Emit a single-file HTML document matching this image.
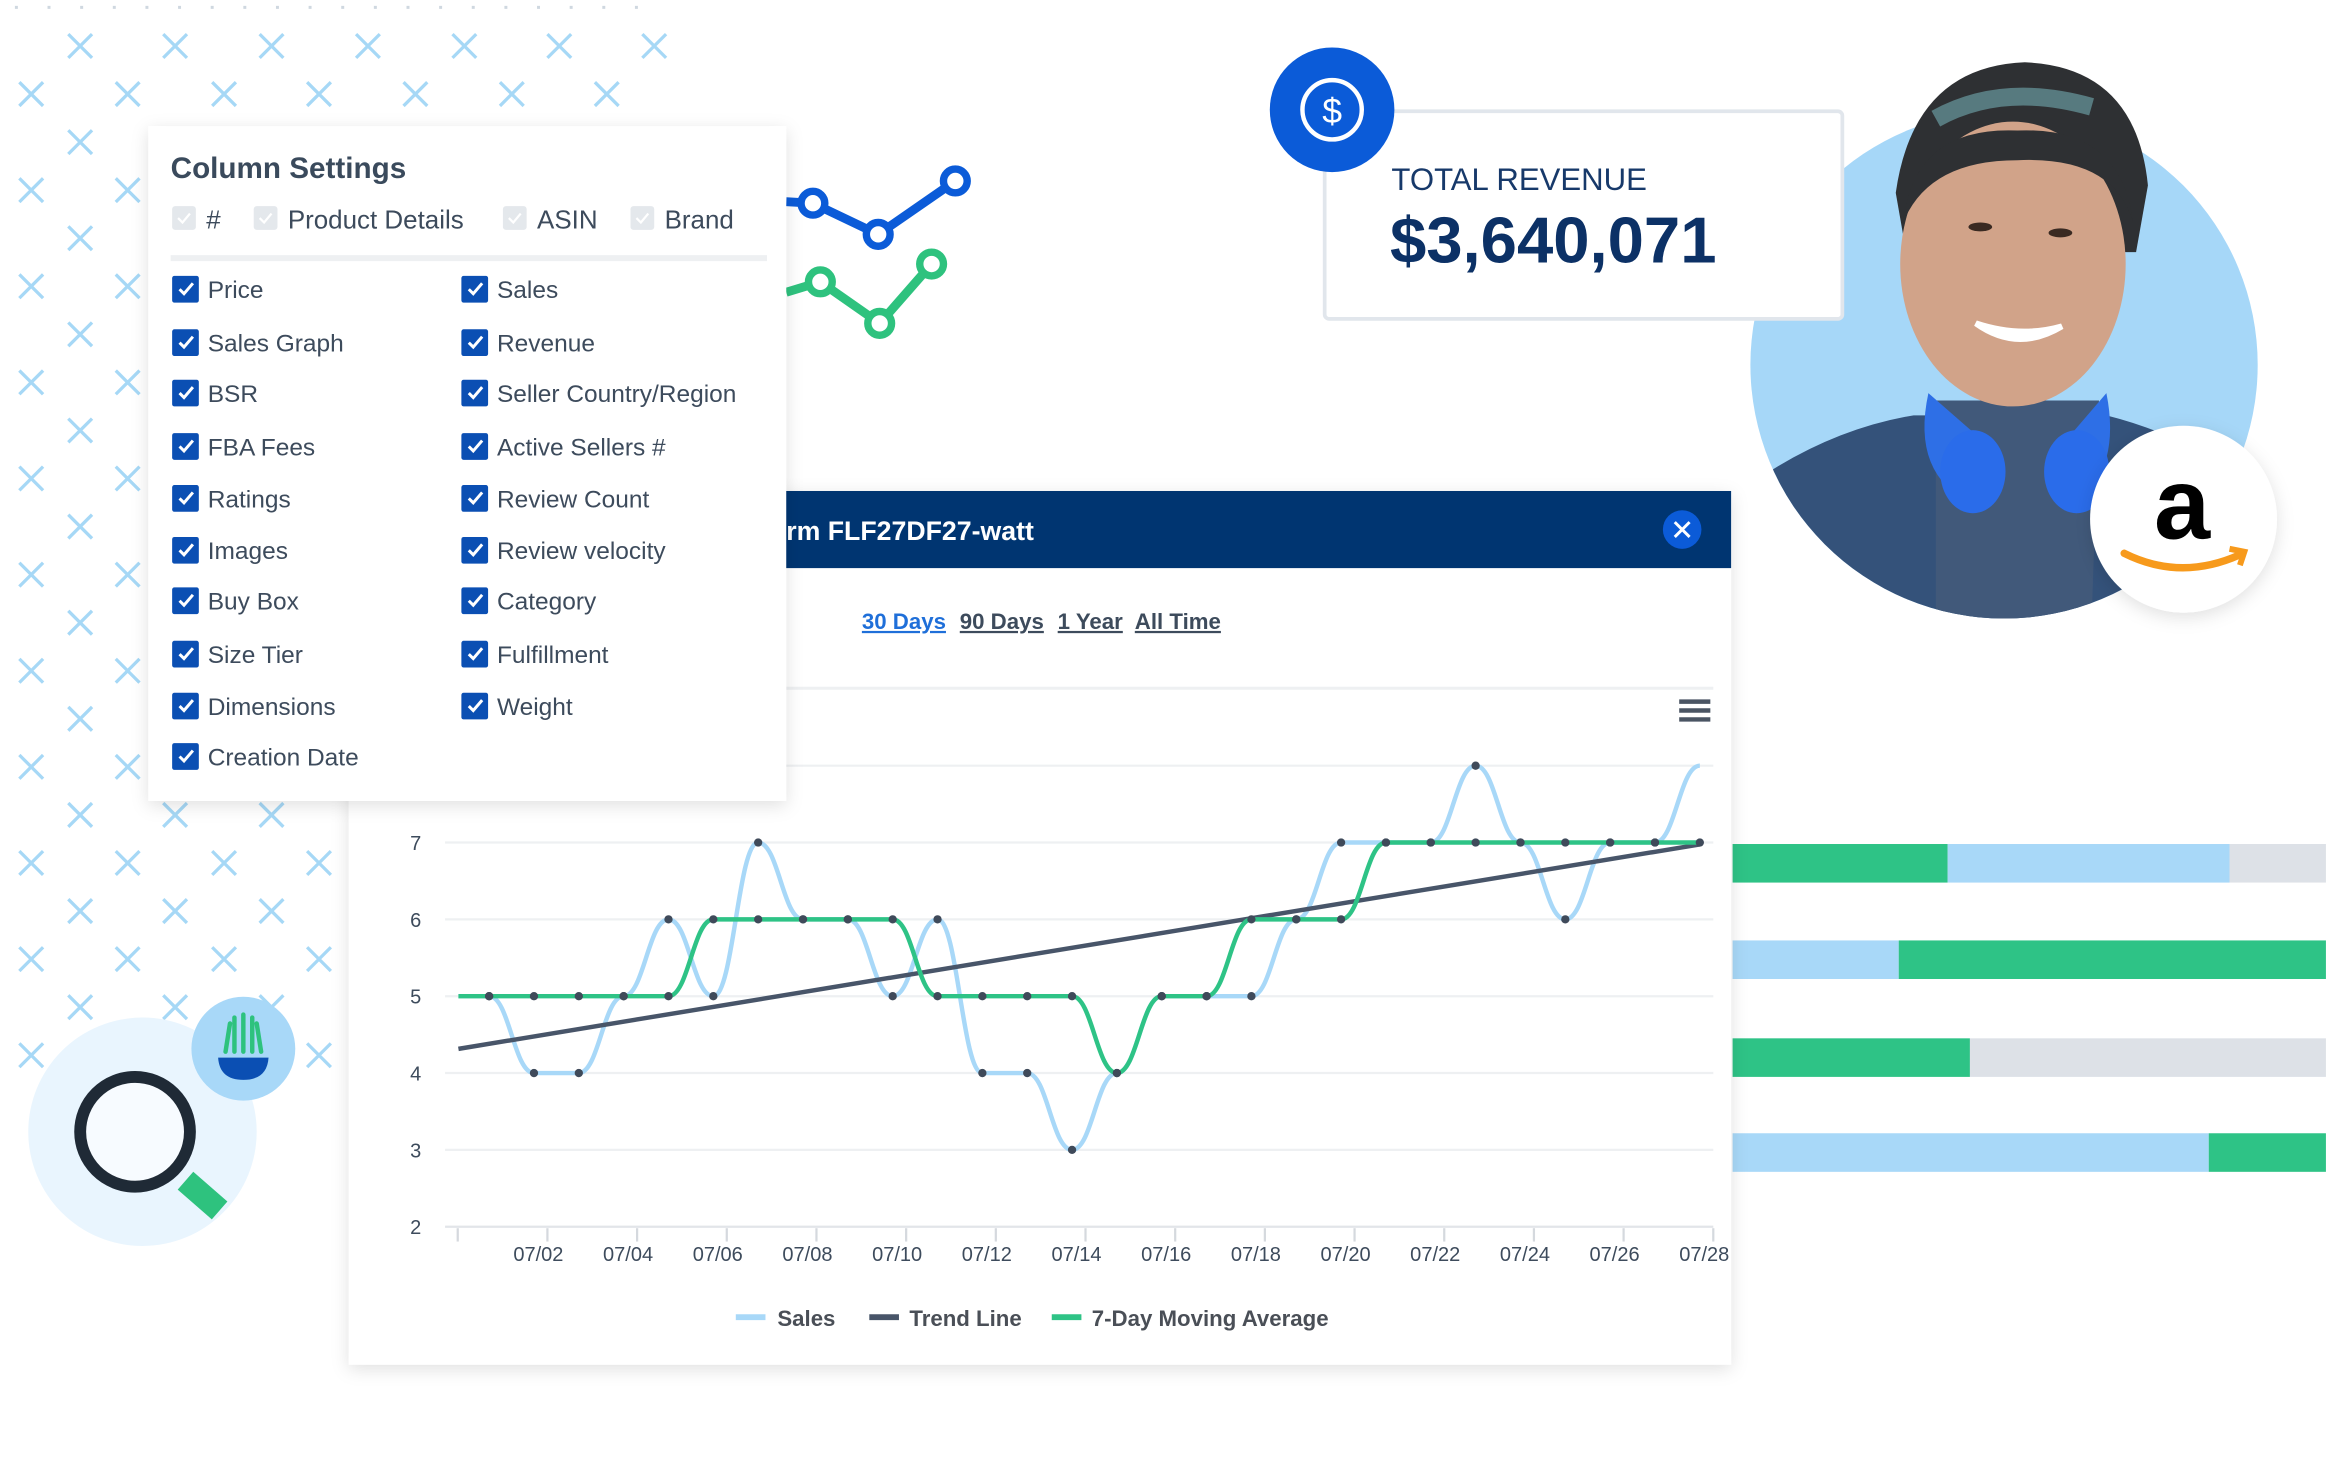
<!DOCTYPE html>
<html><head><meta charset="utf-8">
<style>
html,body{margin:0;padding:0;background:#fff;overflow:hidden;width:2326px;height:1459px}
svg{display:block}
text{font-family:"Liberation Sans",sans-serif}
</style></head>
<body>
<svg id="root" width="2326" height="1459" viewBox="0 0 1568 983.6" xmlns="http://www.w3.org/2000/svg">
<defs>
  <filter id="sh" x="-10%" y="-10%" width="120%" height="125%"><feDropShadow dx="0" dy="3" stdDeviation="6" flood-color="#000" flood-opacity="0.12"/></filter>
  <clipPath id="pc"><circle cx="1351" cy="246" r="171"/></clipPath>
</defs>
<line x1="10" y1="5" x2="430" y2="5" stroke="#cfd8e0" stroke-width="2" stroke-dasharray="2 20"/>
<g id="xpattern"></g>

<g>
  <circle cx="96" cy="763" r="77" fill="#e9f5fe"/>
  <circle cx="164" cy="707" r="35" fill="#a8d8f8"/>
  <path d="M147 713 L181 713 Q180 728 164 728 Q148 728 147 713Z" fill="#0b4fb3"/>
  <path d="M152 709 L155 690 M158 709 L158 686 M164 709 L164 684 M170 709 L170 686 M176 709 L173 690" stroke="#2ec27e" stroke-width="3" stroke-linecap="round"/>
  <line x1="125" y1="796" x2="148" y2="816" stroke="#2ec27e" stroke-width="16"/>
  <circle cx="91" cy="763" r="37" fill="#f7fbff" stroke="#1f2a36" stroke-width="8"/>
</g>

<g>
  <polyline points="530,136 548,137 592,158 644,122" fill="none" stroke="#0b5bd8" stroke-width="6"/>
  <circle cx="548" cy="137" r="8" fill="#fff" stroke="#0b5bd8" stroke-width="5"/>
  <circle cx="592" cy="158" r="8" fill="#fff" stroke="#0b5bd8" stroke-width="5"/>
  <circle cx="644" cy="122" r="8" fill="#fff" stroke="#0b5bd8" stroke-width="5"/>
  <polyline points="530,197 553,190 593,218 628,178" fill="none" stroke="#2ec27e" stroke-width="6"/>
  <circle cx="553" cy="190" r="8" fill="#fff" stroke="#2ec27e" stroke-width="5"/>
  <circle cx="593" cy="218" r="8" fill="#fff" stroke="#2ec27e" stroke-width="5"/>
  <circle cx="628" cy="178" r="8" fill="#fff" stroke="#2ec27e" stroke-width="5"/>
</g>

<g>
  <rect x="1168" y="569" width="145" height="26" fill="#2ec386"/><rect x="1313" y="569" width="190" height="26" fill="#a8d8f8"/><rect x="1503" y="569" width="65" height="26" fill="#dde1e7"/>
  <rect x="1168" y="634" width="112" height="26" fill="#a8d8f8"/><rect x="1280" y="634" width="288" height="26" fill="#2ec386"/>
  <rect x="1168" y="700" width="160" height="26" fill="#2ec386"/><rect x="1328" y="700" width="240" height="26" fill="#dde1e7"/>
  <rect x="1168" y="764" width="321" height="26" fill="#a8d8f8"/><rect x="1489" y="764" width="79" height="26" fill="#2ec386"/>
</g>

<g>
  <circle cx="1351" cy="246" r="171" fill="#a6d7f8"/>
  <g clip-path="url(#pc)">
    <path d="M1150 420 L1175 330 Q1230 290 1290 280 L1420 280 Q1480 295 1530 335 L1540 420Z" fill="#34527a"/>
    <path d="M1305 270 L1415 270 L1410 420 L1305 420Z" fill="#41597a"/>
  </g>
  <path d="M1278 130 Q1290 45 1365 42 Q1440 45 1448 125 L1440 170 L1285 170Z" fill="#2e3033"/>
  <path d="M1305 80 Q1350 55 1410 72" stroke="#6a9aa0" stroke-width="12" fill="none" opacity="0.7"/>
  <ellipse cx="1357" cy="178" rx="76" ry="96" fill="#d1a389"/>
  <path d="M1283 150 Q1290 85 1360 88 Q1430 85 1438 150 Q1425 105 1360 108 Q1300 108 1283 150Z" fill="#2e3033"/>
  <path d="M1332 218 Q1360 238 1390 220 Q1362 228 1332 218Z" fill="#fff" stroke="#fff" stroke-width="4"/>
  <ellipse cx="1335" cy="153" rx="8" ry="3" fill="#3a2a22"/><ellipse cx="1389" cy="157" rx="8" ry="3" fill="#3a2a22"/>
  <path d="M1300 265 Q1288 320 1330 340 L1340 300Z" fill="#2e6fe6"/>
  <path d="M1420 265 Q1430 315 1400 340 L1390 300Z" fill="#2e6fe6"/>
  <ellipse cx="1330" cy="318" rx="22" ry="28" fill="#2a6cea"/>
  <ellipse cx="1400" cy="318" rx="22" ry="28" fill="#2a6cea"/>
</g>
<g filter="url(#sh)">
  <circle cx="1472" cy="350" r="63" fill="#fff"/>
  <text x="1471" y="363" text-anchor="middle" font-size="68" font-weight="bold" fill="#000">a</text>
  <path d="M1432 373 Q1470 392 1510 374" stroke="#f79a1c" stroke-width="5" fill="none" stroke-linecap="round"/>
  <path d="M1503 370 L1513 372 L1510 381" stroke="#f79a1c" stroke-width="4" fill="none"/>
</g>

<g>
  <rect x="893" y="75" width="349" height="140" rx="3" fill="#fff" stroke="#e1e6ec" stroke-width="2.5"/>
  <circle cx="898" cy="74" r="42" fill="#0b5bd8"/>
  <circle cx="898" cy="74" r="20" fill="none" stroke="#fff" stroke-width="3"/>
  <text x="898" y="83" text-anchor="middle" font-size="24" fill="#fff">$</text>
  <text x="938" y="128" font-size="21" fill="#17396a">TOTAL REVENUE</text>
  <text x="937" y="177" font-size="44" font-weight="bold" fill="#0c3166">$3,640,071</text>
</g>

<g>
  <rect x="235" y="331" width="932" height="589" fill="#fff" filter="url(#sh)"/>
  <rect x="235" y="331" width="932" height="52" fill="#003571"/>
  <text x="530" y="364" font-size="18" font-weight="bold" fill="#fff">rm FLF27DF27-watt</text>
  <g><circle cx="1134" cy="357" r="13" fill="#0b5bd8"/><path d="M1129 352 L1139 362 M1139 352 L1129 362" stroke="#fff" stroke-width="2"/></g>
  <text x="581" y="424" font-size="15" font-weight="bold" fill="#1f6fd9" text-decoration="underline">30 Days</text>
  <text x="647" y="424" font-size="15" font-weight="bold" fill="#3d4b5c" text-decoration="underline">90 Days</text>
  <text x="713" y="424" font-size="15" font-weight="bold" fill="#3d4b5c" text-decoration="underline">1 Year</text>
  <text x="765" y="424" font-size="15" font-weight="bold" fill="#3d4b5c" text-decoration="underline">All Time</text>
  <line x1="530" y1="464" x2="1155" y2="464" stroke="#eef0f2" stroke-width="2"/>
  <g stroke="#4a5563" stroke-width="3"><line x1="1132" y1="473" x2="1153" y2="473"/><line x1="1132" y1="479" x2="1153" y2="479"/><line x1="1132" y1="485" x2="1153" y2="485"/></g>
  <g id="chart"></g>
  <g font-size="15" font-weight="bold" fill="#4a4f57">
    <g><line x1="496" y1="888" x2="516" y2="888" stroke="#a8d8f8" stroke-width="4"/><text x="524" y="894">Sales</text></g>
    <g><line x1="586" y1="888" x2="606" y2="888" stroke="#485569" stroke-width="4"/><text x="613" y="894">Trend Line</text></g>
    <g><line x1="709" y1="888" x2="729" y2="888" stroke="#2ec386" stroke-width="4"/><text x="736" y="894">7-Day Moving Average</text></g>
  </g>
</g>

<g>
  <rect x="100" y="85" width="430" height="455" fill="#fff" filter="url(#sh)"/>
  <text x="115" y="120" font-size="20" font-weight="bold" fill="#3a4a5c">Column Settings</text>
  <g id="cols"></g>
  <line x1="115" y1="174" x2="517" y2="174" stroke="#eef0f2" stroke-width="4"/>
</g>
</svg>

<script>
(function(){
  var g=document.getElementById('xpattern');
  for(var r=0;r<22;r++){
    var y=31+r*32.4, odd=r%2===0, xs=[];
    if(r===0) xs=[54,118,183,248,313,377,441];
    else if(r===1) xs=[21,86,151,215,280,345,409];
    else if(r>=16) xs= odd?[54,118,183]:[21,86,151,215];
    else xs= odd?[54]:[21,86];
    xs.forEach(function(x){
      var p=document.createElementNS('http://www.w3.org/2000/svg','path');
      p.setAttribute('d','M'+(x-8)+' '+(y-8)+' L'+(x+8)+' '+(y+8)+' M'+(x+8)+' '+(y-8)+' L'+(x-8)+' '+(y+8));
      p.setAttribute('stroke','#a6d8f6');p.setAttribute('stroke-width','2.2');
      
      
      g.appendChild(p);
    });
  }
})();

var disabledCols=["#","Product Details","ASIN","Brand"];
var leftCols=["Price","Sales Graph","BSR","FBA Fees","Ratings","Images","Buy Box","Size Tier","Dimensions","Creation Date"];
var rightCols=["Sales","Revenue","Seller Country/Region","Active Sellers #","Review Count","Review velocity","Category","Fulfillment","Weight"];
(function(){
  var NS='http://www.w3.org/2000/svg', g=document.getElementById('cols');
  var dx=[116,171,339,425];
  function mk(t){return document.createElementNS(NS,t);}
  disabledCols.forEach(function(c,i){
    var grp=mk('g');
    
    
    var r=mk('rect');r.setAttribute('x',dx[i]);r.setAttribute('y',139);r.setAttribute('width',16);r.setAttribute('height',16);r.setAttribute('rx',2);r.setAttribute('fill','#e4e8ec');grp.appendChild(r);
    var ck=mk('path');ck.setAttribute('d','M'+(dx[i]+4)+' 147 l3 3 l5 -6');ck.setAttribute('stroke','#fff');ck.setAttribute('stroke-width','1.5');ck.setAttribute('fill','none');grp.appendChild(ck);
    var t=mk('text');t.setAttribute('x',dx[i]+23);t.setAttribute('y',154);t.setAttribute('font-size','17.5');t.setAttribute('fill','#3d4b5c');t.textContent=c;grp.appendChild(t);
    g.appendChild(grp);
  });
  var ys=[195,231,265,301,336,371,405,441,476,510];
  function row(label,x,y){
    var grp=mk('g');
    
    
    var r=mk('rect');r.setAttribute('x',x);r.setAttribute('y',y-9);r.setAttribute('width',18);r.setAttribute('height',18);r.setAttribute('rx',1.5);r.setAttribute('fill','#0b4fb3');grp.appendChild(r);
    var ck=mk('path');ck.setAttribute('d','M'+(x+5)+' '+y+' l3 3 l6 -7');ck.setAttribute('stroke','#fff');ck.setAttribute('stroke-width','2');ck.setAttribute('fill','none');grp.appendChild(ck);
    var t=mk('text');t.setAttribute('x',x+24);t.setAttribute('y',y+6);t.setAttribute('font-size','16.5');t.setAttribute('fill','#3d4b5c');t.textContent=label;grp.appendChild(t);
    g.appendChild(grp);
  }
  leftCols.forEach(function(c,i){row(c,116,ys[i]);});
  rightCols.forEach(function(c,i){row(c,311,ys[i]);});
})();
</script>

<script>
var xLabels=["07/02","07/04","07/06","07/08","07/10","07/12","07/14","07/16","07/18","07/20","07/22","07/24","07/26","07/28"];
var yTicks=[2,3,4,5,6,7,8];
var sales=[5,4,4,5,6,5,7,6,6,5,6,4,4,3,4,5,5,5,6,7,7,7,8,7,6,7,7,8];
var movingAvg=[5,5,5,5,5,6,6,6,6,6,5,5,5,5,4,5,5,6,6,6,7,7,7,7,7,7,7,7];

(function(){
  var NS='http://www.w3.org/2000/svg', g=document.getElementById('chart');
  function mk(t){return document.createElementNS(NS,t);}
  var plotLeft=309, plotRight=1155;
  function xs(i){return 329.7+30.23*i;}
  function ys(v){return 568-(v-7)*51.8;}
  yTicks.forEach(function(v){
    if(v>2){
      var l=mk('line');l.setAttribute('x1',300);l.setAttribute('x2',plotRight);l.setAttribute('y1',ys(v));l.setAttribute('y2',ys(v));l.setAttribute('stroke','#eef0f2');l.setAttribute('stroke-width','1.5');
      
      
      g.appendChild(l);
    }
    if(v<8){
      var t=mk('text');t.setAttribute('x',284);t.setAttribute('y',ys(v)+5);t.setAttribute('text-anchor','end');t.setAttribute('font-size','13.5');t.setAttribute('fill','#3d4b5c');t.textContent=v;
      
      
      g.appendChild(t);
    }
  });
  var ax=mk('line');ax.setAttribute('x1',300);ax.setAttribute('x2',plotRight);ax.setAttribute('y1',827);ax.setAttribute('y2',827);ax.setAttribute('stroke','#e2e5e9');ax.setAttribute('stroke-width','1.5');
  
  
  g.appendChild(ax);
  for(var k=0;k<=xLabels.length;k++){
    var tk=mk('line');var tx=xs(2*k-0.7);tk.setAttribute('x1',tx);tk.setAttribute('x2',tx);tk.setAttribute('y1',828);tk.setAttribute('y2',837);tk.setAttribute('stroke','#d5d9de');tk.setAttribute('stroke-width','1.5');
    
    
    g.appendChild(tk);
  }
  xLabels.forEach(function(lb,k){
    var t=mk('text');t.setAttribute('x',xs(2*k+1)+3);t.setAttribute('y',850);t.setAttribute('text-anchor','middle');t.setAttribute('font-size','13.5');t.setAttribute('fill','#3d4b5c');t.textContent=lb;
    
    
    g.appendChild(t);
  });
  function smooth(vals){
    var d='M'+plotLeft+' '+ys(vals[0])+' L'+xs(0)+' '+ys(vals[0]);
    for(var i=1;i<vals.length;i++){
      var x0=xs(i-1),x1=xs(i),dx=x1-x0;
      d+=' C'+(x0+dx*0.45)+' '+ys(vals[i-1])+' '+(x1-dx*0.45)+' '+ys(vals[i])+' '+x1+' '+ys(vals[i]);
    }
    return d;
  }
  var sp=mk('path');sp.setAttribute('d',smooth(sales));sp.setAttribute('fill','none');sp.setAttribute('stroke','#a8d8f8');sp.setAttribute('stroke-width','3');
  
  
  g.appendChild(sp);
  var n=sales.length,sx=0,sy=0,sxx=0,sxy=0;
  for(var i=0;i<n;i++){sx+=i;sy+=sales[i];sxx+=i*i;sxy+=i*sales[i];}
  var b=(n*sxy-sx*sy)/(n*sxx-sx*sx),a=(sy-b*sx)/n;
  var li=-0.7,ri=n-1;
  var tl=mk('line');tl.setAttribute('x1',plotLeft);tl.setAttribute('y1',ys(a+b*li));tl.setAttribute('x2',xs(ri));tl.setAttribute('y2',ys(a+b*ri));tl.setAttribute('stroke','#485569');tl.setAttribute('stroke-width','3');
  
  
  g.appendChild(tl);
  var mp=mk('path');mp.setAttribute('d',smooth(movingAvg));mp.setAttribute('fill','none');mp.setAttribute('stroke','#2ec386');mp.setAttribute('stroke-width','3');
  
  
  g.appendChild(mp);
  function markers(vals,name){
    vals.forEach(function(v,i){
      var c=mk('circle');c.setAttribute('cx',xs(i));c.setAttribute('cy',ys(v));c.setAttribute('r','2.8');c.setAttribute('fill','#3f4a5a');
      
      
      g.appendChild(c);
    });
  }
  markers(sales.slice(0,n-1),'sales-point');
  markers(movingAvg,'moving-average-point');
})();
</script>
</body></html>
